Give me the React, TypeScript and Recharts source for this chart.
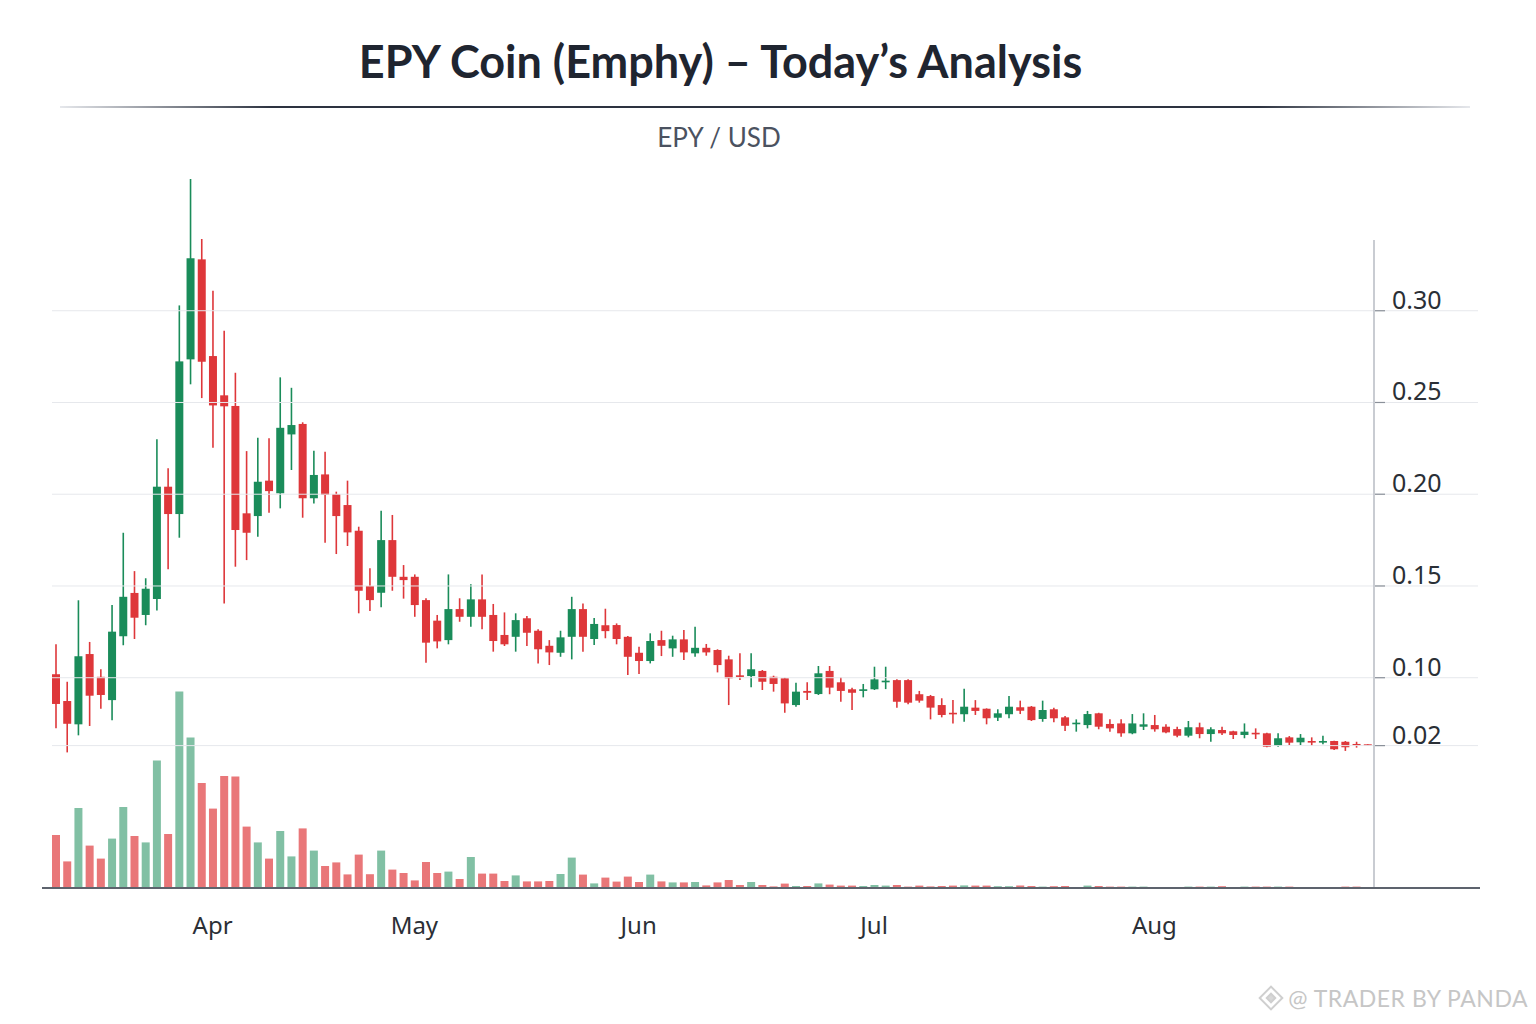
import React from "react";
import { ComposedChart, Bar, Cell, XAxis, YAxis } from "recharts";

// OHLC for EPY / USD, one entry per candle
const OPEN = [
  0.1019, 0.0873, 0.0746, 0.1129, 0.1005, 0.0878, 0.1226, 0.1462, 0.1342, 0.1429,
  0.2041, 0.1892, 0.2735, 0.328, 0.2753, 0.2539, 0.2481, 0.1896, 0.1881, 0.2074,
  0.2005, 0.2326, 0.2383, 0.1978, 0.2108, 0.2001, 0.1941, 0.1801, 0.15, 0.1463,
  0.175, 0.155, 0.155, 0.1423, 0.1311, 0.1205, 0.1374, 0.1332, 0.1427, 0.1342,
  0.1233, 0.1223, 0.1324, 0.1256, 0.1174, 0.1136, 0.1223, 0.1374, 0.1211, 0.1286,
  0.1287, 0.1223, 0.1136, 0.1091, 0.1205, 0.116, 0.1209, 0.1133, 0.1163, 0.1151,
  0.11, 0.1013, 0.1009, 0.1037, 0.1005, 0.0997, 0.0851, 0.0928, 0.0911, 0.1037,
  0.0975, 0.0937, 0.0928, 0.0937, 0.0975, 0.0987, 0.0987, 0.091, 0.09, 0.0851,
  0.0809, 0.0801, 0.0837, 0.0831, 0.0782, 0.0801, 0.0839, 0.0842, 0.0775, 0.0828,
  0.0784, 0.0749, 0.0742, 0.0806, 0.0748, 0.0751, 0.0697, 0.0733, 0.0742, 0.0733,
  0.072, 0.0684, 0.073, 0.0693, 0.0715, 0.0708, 0.0688, 0.07, 0.0697, 0.0628,
  0.0675, 0.0648, 0.0655, 0.065, 0.0655, 0.0651, 0.0639, 0.0637,
];

const HIGH = [
  0.1182, 0.0978, 0.1422, 0.1195, 0.1046, 0.1396, 0.179, 0.1581, 0.1542, 0.2299,
  0.2141, 0.3029, 0.3718, 0.3391, 0.3109, 0.2891, 0.2662, 0.2235, 0.2308, 0.2305,
  0.2637, 0.258, 0.2392, 0.2237, 0.2232, 0.2014, 0.2074, 0.1823, 0.1596, 0.191,
  0.1887, 0.1614, 0.1563, 0.1433, 0.1342, 0.1563, 0.1433, 0.1509, 0.1563, 0.1402,
  0.1356, 0.1351, 0.1336, 0.1264, 0.1205, 0.1256, 0.1441, 0.1405, 0.1325, 0.1376,
  0.1296, 0.1227, 0.1169, 0.1242, 0.1256, 0.1229, 0.126, 0.1278, 0.1184, 0.1155,
  0.112, 0.1133, 0.1133, 0.1042, 0.1011, 0.1, 0.0973, 0.0975, 0.1064, 0.1064,
  0.1002, 0.0946, 0.0966, 0.106, 0.106, 0.0991, 0.0991, 0.0928, 0.0906, 0.0888,
  0.0878, 0.094, 0.0878, 0.0833, 0.0828, 0.09, 0.0875, 0.0846, 0.0875, 0.0837,
  0.0791, 0.0773, 0.0819, 0.0809, 0.0773, 0.0773, 0.0802, 0.0806, 0.0797, 0.0746,
  0.0733, 0.0764, 0.0755, 0.073, 0.0733, 0.0711, 0.0751, 0.0724, 0.07, 0.0697,
  0.0682, 0.0693, 0.0675, 0.0684, 0.0657, 0.0655, 0.0651, 0.0637,
];

const LOW = [
  0.0724, 0.0593, 0.0686, 0.0737, 0.0831, 0.0768, 0.1177, 0.1211, 0.1286, 0.1367,
  0.1591, 0.1763, 0.2599, 0.2524, 0.2253, 0.1405, 0.1605, 0.1641, 0.1768, 0.1899,
  0.1923, 0.2132, 0.1872, 0.195, 0.1736, 0.1674, 0.1718, 0.1351, 0.1363, 0.1384,
  0.1474, 0.1431, 0.1332, 0.1082, 0.116, 0.1182, 0.1305, 0.1278, 0.1264, 0.1142,
  0.1173, 0.1142, 0.1173, 0.1078, 0.1069, 0.1114, 0.11, 0.1142, 0.1178, 0.1215,
  0.1182, 0.1015, 0.102, 0.1078, 0.1118, 0.1114, 0.1096, 0.1114, 0.112, 0.1029,
  0.0851, 0.0987, 0.0948, 0.0933, 0.0924, 0.0809, 0.0842, 0.0878, 0.0906, 0.091,
  0.0869, 0.0824, 0.0893, 0.0933, 0.0938, 0.0837, 0.0855, 0.0864, 0.0773, 0.0784,
  0.0751, 0.076, 0.0797, 0.0746, 0.0764, 0.0779, 0.0802, 0.0764, 0.076, 0.0757,
  0.071, 0.0706, 0.0724, 0.0719, 0.0706, 0.0678, 0.0692, 0.0715, 0.0706, 0.0697,
  0.0675, 0.0675, 0.067, 0.0651, 0.0688, 0.0666, 0.067, 0.0666, 0.0621, 0.0624,
  0.0633, 0.0633, 0.0628, 0.0637, 0.0606, 0.0601, 0.0619, 0.0633,
];

const CLOSE = [
  0.0857, 0.0749, 0.1117, 0.0902, 0.0906, 0.1251, 0.1441, 0.1327, 0.1485, 0.2041,
  0.1892, 0.2724, 0.3286, 0.2722, 0.2484, 0.2479, 0.1805, 0.179, 0.2068, 0.2017,
  0.2362, 0.2377, 0.1978, 0.2105, 0.1996, 0.1881, 0.1792, 0.1474, 0.1423, 0.175,
  0.155, 0.1532, 0.1396, 0.1191, 0.1198, 0.1374, 0.1332, 0.1427, 0.1332, 0.12,
  0.1182, 0.1314, 0.1245, 0.1155, 0.1138, 0.122, 0.1374, 0.1223, 0.1293, 0.1254,
  0.1211, 0.1114, 0.1091, 0.12, 0.1174, 0.1209, 0.1138, 0.1163, 0.1138, 0.1069,
  0.0997, 0.1005, 0.1046, 0.0978, 0.0966, 0.086, 0.0924, 0.0918, 0.1024, 0.0946,
  0.0928, 0.0918, 0.0937, 0.0991, 0.0984, 0.0869, 0.0864, 0.0875, 0.0837, 0.0797,
  0.0802, 0.0842, 0.0819, 0.0779, 0.0806, 0.0842, 0.082, 0.0769, 0.0824, 0.0779,
  0.0738, 0.0755, 0.0802, 0.0733, 0.0724, 0.0697, 0.0751, 0.0746, 0.0719, 0.0702,
  0.0684, 0.073, 0.0693, 0.0719, 0.0697, 0.0688, 0.0706, 0.0693, 0.0624, 0.067,
  0.0646, 0.0673, 0.0648, 0.0655, 0.061, 0.0621, 0.0633, 0.0633,
];

// traded volume, millions
const VOLUME = [
  2.65, 1.33, 4.0, 2.12, 1.47, 2.47, 4.05, 2.6, 2.28, 6.37,
  2.7, 9.82, 7.53, 5.25, 3.97, 5.6, 5.58, 3.07, 2.28, 1.47,
  2.85, 1.58, 2.98, 1.87, 1.1, 1.28, 0.68, 1.67, 0.69, 1.87,
  0.92, 0.75, 0.38, 1.3, 0.75, 0.82, 0.45, 1.55, 0.72, 0.72,
  0.35, 0.63, 0.33, 0.33, 0.35, 0.7, 1.52, 0.67, 0.23, 0.52,
  0.32, 0.57, 0.3, 0.67, 0.33, 0.28, 0.28, 0.3, 0.13, 0.28,
  0.4, 0.15, 0.3, 0.15, 0.08, 0.22, 0.1, 0.1, 0.23, 0.17,
  0.12, 0.12, 0.1, 0.15, 0.12, 0.15, 0.07, 0.12, 0.08, 0.1,
  0.12, 0.13, 0.12, 0.12, 0.09, 0.09, 0.12, 0.1, 0.07, 0.09,
  0.1, 0.05, 0.12, 0.1, 0.07, 0.07, 0.07, 0.07, 0.05, 0.05,
  0.05, 0.07, 0.07, 0.07, 0.09, 0.05, 0.07, 0.07, 0.07, 0.07,
  0.07, 0.05, 0.05, 0.05, 0.05, 0.07, 0.07, 0.04,
];

// month labels sit under these candles
const MONTH_TICKS = [14, 32, 52, 73, 98];
const MONTH_LABELS = ["Apr", "May", "Jun", "Jul", "Aug"];

// price axis ticks and the text printed beside them
const PRICE_TICKS = [0.063, 0.1, 0.15, 0.2, 0.25, 0.3];
const PRICE_LABELS = ["0.02", "0.10", "0.15", "0.20", "0.25", "0.30"];

const UP = "#1a8c5a";
const DOWN = "#de373a";

const W = 1536;
const H = 1024;
const MARGIN = { top: 170, right: 53, bottom: 76, left: 50 };
const Y_AXIS_W = 110;
const X_AXIS_H = 60;
const PLOT_RIGHT = W - MARGIN.right - Y_AXIS_W;
const PLOT_BOTTOM = H - MARGIN.bottom - X_AXIS_H;

const data = OPEN.map((open, i) => ({
  i,
  open,
  high: HIGH[i],
  low: LOW[i],
  close: CLOSE[i],
  volume: VOLUME[i],
}));

const Candle = (props: any) => {
  const { x, y, width, height, payload } = props;
  if (x == null || y == null) return null;
  const top = Math.min(y, y + height);
  const bottom = Math.max(y, y + height);
  const span = payload.high - payload.low;
  const toY = (v: number) =>
    span > 0 ? bottom - ((v - payload.low) / span) * (bottom - top) : top;
  const up = payload.close >= payload.open;
  const color = up ? UP : DOWN;
  const bTop = toY(Math.max(payload.open, payload.close));
  const bBot = toY(Math.min(payload.open, payload.close));
  const cx = x + width / 2;
  return (
    <g>
      <line x1={cx} x2={cx} y1={top} y2={bottom} stroke={color} strokeWidth={1.6} />
      <rect
        x={x}
        y={bTop}
        width={width}
        height={Math.max(bBot - bTop, 1.6)}
        fill={color}
      />
    </g>
  );
};

// grid line across the plot, small tick mark, and the label resting on the line
const PriceTick = (props: any) => {
  const { y, payload } = props;
  const label = PRICE_LABELS[PRICE_TICKS.indexOf(payload.value)];
  return (
    <g>
      <line x1={MARGIN.left + 2} x2={1478} y1={y} y2={y} stroke="#e6e8ec" strokeWidth={1} />
      <line x1={PLOT_RIGHT} x2={PLOT_RIGHT + 12} y1={y} y2={y} stroke="#8a9099" strokeWidth={1.2} />
      <text
        x={1392}
        y={y - 2}
        fontSize={25}
        fill="#2a2f36"
        fontFamily="'Noto Sans', sans-serif"
      >
        {label}
      </text>
    </g>
  );
};

const Logo = () => (
  <svg width={26} height={26} viewBox="0 0 26 26" style={{ marginRight: 4 }}>
    <g transform="rotate(45 13 13)" fill="none" stroke="#cfcfcf" strokeWidth={2}>
      <rect x={5} y={5} width={16} height={16} />
      <rect x={10} y={10} width={6} height={6} fill="#d8d8d8" />
    </g>
  </svg>
);

export default function App() {
  return (
    <div
      style={{
        position: "absolute",
        left: 0,
        top: 0,
        width: W,
        height: H,
        background: "#ffffff",
        overflow: "hidden",
        fontFamily: "Lato, 'Noto Sans', sans-serif",
      }}
    >
      <div
        style={{
          position: "absolute",
          left: 0,
          width: 1441,
          top: 33,
          textAlign: "center",
          fontSize: 45,
          fontWeight: 700,
          color: "#1f2530",
          lineHeight: "56px",
        }}
      >
        EPY Coin (Emphy) – Today’s Analysis
      </div>
      <div
        style={{
          position: "absolute",
          left: 60,
          width: 1410,
          top: 106,
          height: 2,
          background:
            "linear-gradient(to right, #e6e8ec, #2d3340 15%, #2d3340 85%, #e6e8ec)",
        }}
      />
      <div
        style={{
          position: "absolute",
          left: 0,
          width: 1438,
          top: 120,
          textAlign: "center",
          fontSize: 26,
          color: "#4b5260",
          lineHeight: "34px",
        }}
      >
        EPY / USD
      </div>

      <div style={{ position: "absolute", left: 0, top: 0 }}>
        <ComposedChart width={W} height={H} data={data} margin={MARGIN}>
          <XAxis
            xAxisId="main"
            dataKey="i"
            type="category"
            ticks={MONTH_TICKS}
            interval={0}
            tickFormatter={(v: number) => MONTH_LABELS[MONTH_TICKS.indexOf(v)]}
            axisLine={false}
            tickLine={false}
            tickSize={0}
            tickMargin={29}
            height={X_AXIS_H}
            tick={{ fontSize: 24, fill: "#2b2f36", fontFamily: "'Noto Sans', sans-serif" }}
          />
          <XAxis xAxisId="vol" dataKey="i" type="category" hide />
          <YAxis
            yAxisId="price"
            orientation="right"
            type="number"
            domain={[-0.0146, 0.3767]}
            allowDataOverflow
            ticks={PRICE_TICKS}
            interval={0}
            width={Y_AXIS_W}
            axisLine={false}
            tickLine={false}
            tickSize={0}
            tickMargin={0}
            tick={<PriceTick />}
          />
          <YAxis yAxisId="vol" type="number" domain={[0, 35.9]} hide />
          <Bar
            xAxisId="vol"
            yAxisId="vol"
            dataKey="volume"
            barSize={8}
            isAnimationActive={false}
          >
            {data.map((d, idx) => (
              <Cell
                key={`v-${idx}`}
                fill={d.close >= d.open ? UP : DOWN}
                fillOpacity={d.close >= d.open ? 0.55 : 0.68}
              />
            ))}
          </Bar>
          <Bar
            xAxisId="main"
            yAxisId="price"
            dataKey={(d: any) => [d.low, d.high]}
            barSize={8}
            shape={<Candle />}
            isAnimationActive={false}
          />
        </ComposedChart>
      </div>

      {/* price axis spine and time axis baseline */}
      <div
        style={{
          position: "absolute",
          left: PLOT_RIGHT,
          top: 240,
          width: 1.5,
          height: PLOT_BOTTOM - 240,
          background: "#c9ccd2",
        }}
      />
      <div
        style={{
          position: "absolute",
          left: 42,
          top: PLOT_BOTTOM - 1,
          width: 1438,
          height: 2,
          background: "#5d636d",
        }}
      />

      <div
        style={{
          position: "absolute",
          right: 8,
          top: 984,
          display: "flex",
          alignItems: "center",
          fontSize: 23,
          color: "#c6c6c6",
          letterSpacing: 0.5,
        }}
      >
        <Logo />
        @ TRADER BY PANDA
      </div>
    </div>
  );
}
